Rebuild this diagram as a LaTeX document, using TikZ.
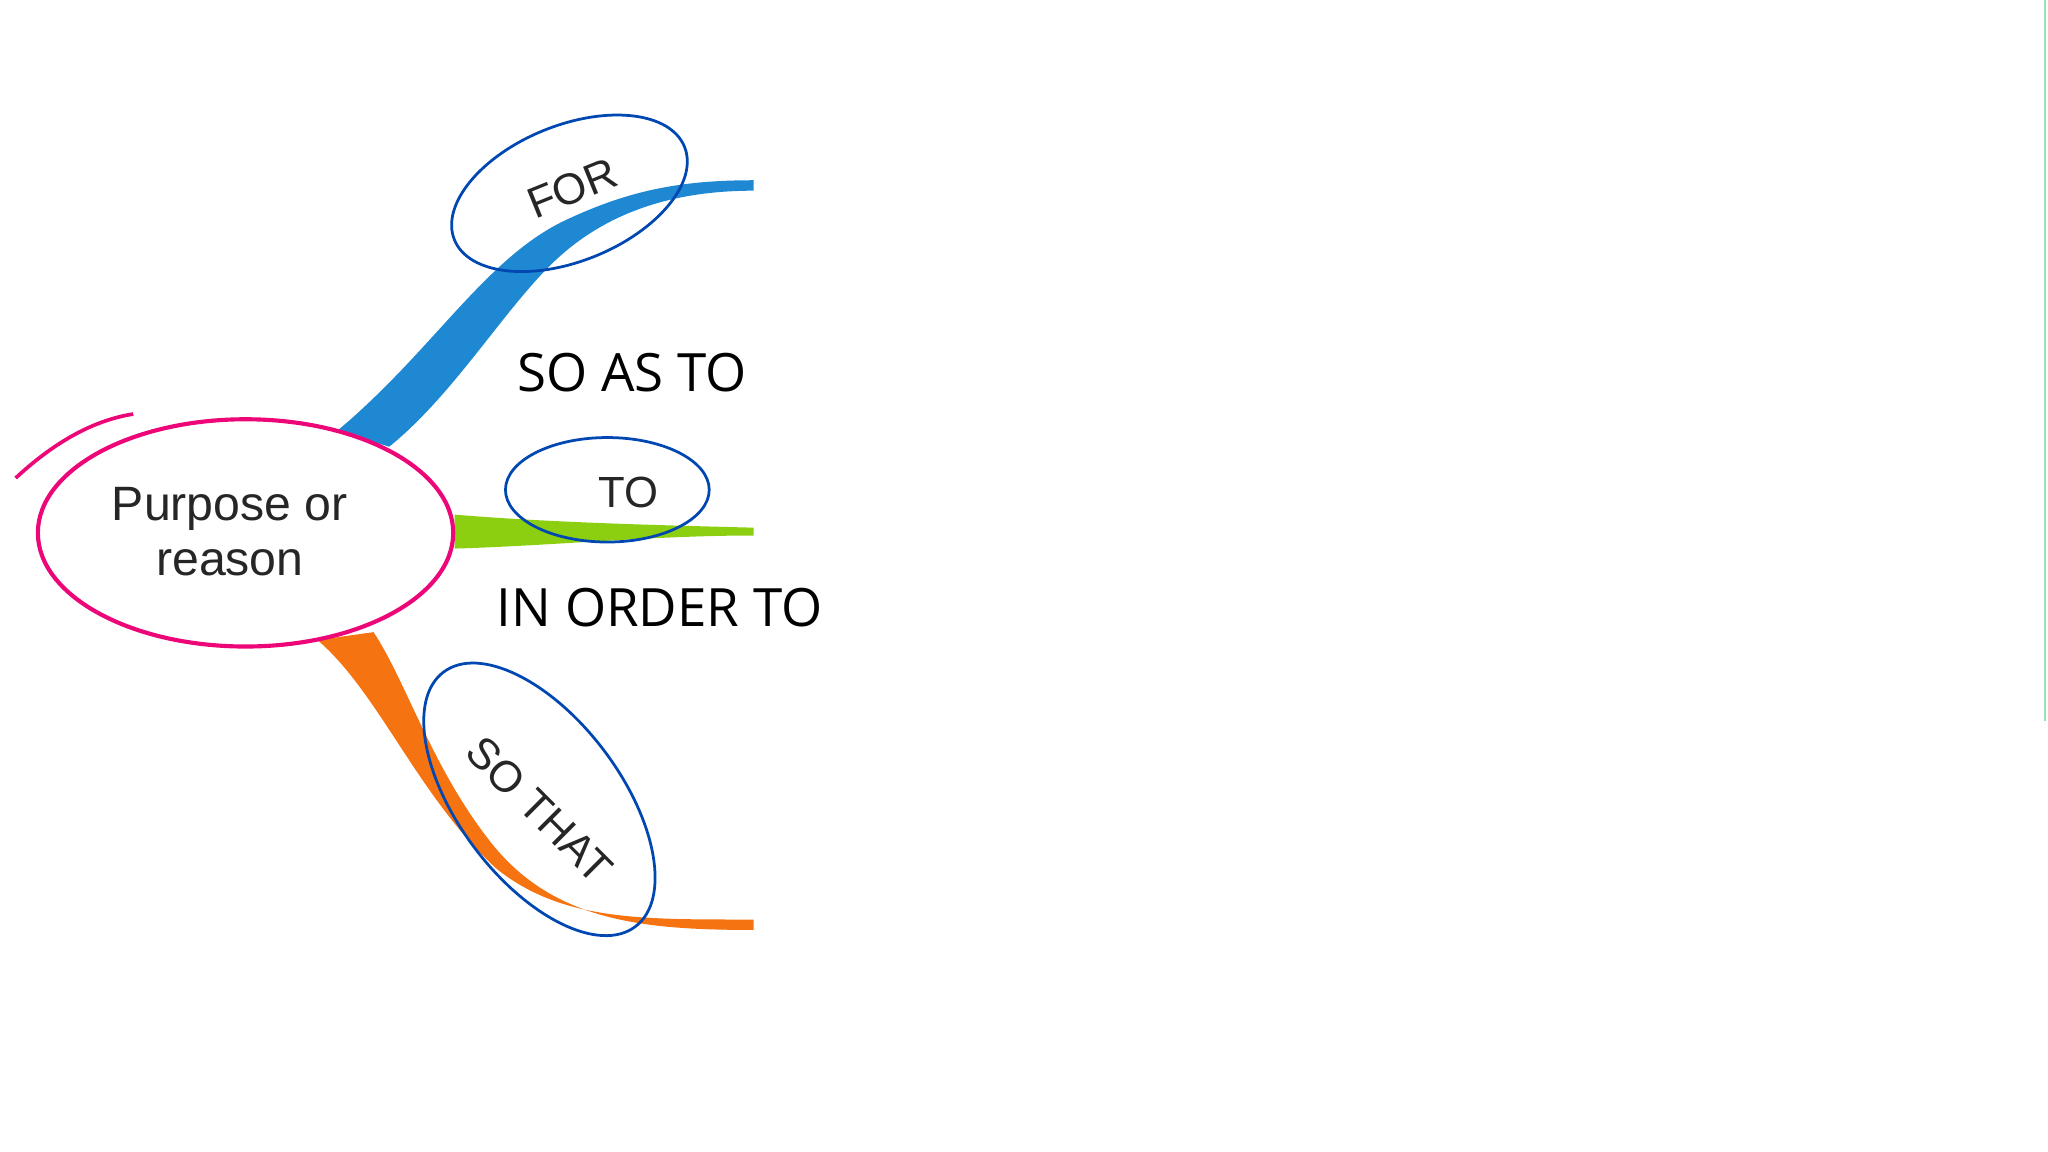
\documentclass[tikz,border=0pt]{standalone}
\usepackage{fontspec}
\setmainfont{Liberation Sans}
\newfontfamily\capsfont{Open Sans}
\definecolor{bbr}{HTML}{1E88D2}
\definecolor{gbr}{HTML}{8CCF10}
\definecolor{obr}{HTML}{F57310}
\begin{document}
\begin{tikzpicture}[x=0.01cm,y=-0.01cm,
  blueell/.style={draw=blue!60!cyan!70!black,line width=0.6pt},
  lbl/.style={font=\fontsize{9.5pt}{11pt}\selectfont,text=black!85},
  big/.style={font=\capsfont\fontsize{11.5pt}{13pt}\selectfont}]
\useasboundingbox (0,0) rectangle (1568,882);
\draw[green!50!teal!40,line width=0.4pt] (1566,0) -- (1566,552);
% branches
\fill[bbr] (258,330) .. controls (330,270) and (370,200) .. (430,170)
  .. controls (480,146) and (520,138) .. (577,138) -- (577,146)
  .. controls (520,146) and (470,160) .. (430,195)
  .. controls (390,230) and (350,300) .. (298,342) -- cycle;
\fill[gbr] (348,394) .. controls (420,400) and (500,402) .. (577,404)
  -- (577,410) .. controls (500,410) and (420,418) .. (348,420) -- cycle;
\fill[obr] (243,490) .. controls (290,530) and (320,610) .. (380,665)
  .. controls (430,705) and (490,704) .. (577,704) -- (577,712)
  .. controls (490,712) and (420,705) .. (372,640)
  .. controls (330,585) and (310,520) .. (286,484) -- cycle;
% center
\draw[magenta!80!red,line width=0.9pt,fill=white] (188,408) ellipse [x radius=159,y radius=87];
\draw[magenta!80!red,line width=0.8pt] (12,366) .. controls (40,340) and (70,322) .. (102,317);
\node[lbl,align=center,font=\fontsize{10.5pt}{12pt}\selectfont] (ct) at (176,407) {Purpose or\\reason};
% labels
\draw[blueell,rotate around={22:(436,148)}] (436,148) ellipse [x radius=95,y radius=52];
\node[lbl,rotate=22] (for) at (438,144) {FOR};
\draw[blueell] (465,375) ellipse [x radius=78,y radius=40];
\node[lbl] (to) at (481,377) {TO};
\draw[blueell,rotate around={-53:(413,612)}] (413,612) ellipse [x radius=122,y radius=62];
\node[lbl,rotate=-45] (st) at (413,620) {SO THAT};
\node[big] (sat) at (484,285) {SO AS TO};
\node[big] (iot) at (505,465) {IN ORDER TO};
\end{tikzpicture}
\end{document}
